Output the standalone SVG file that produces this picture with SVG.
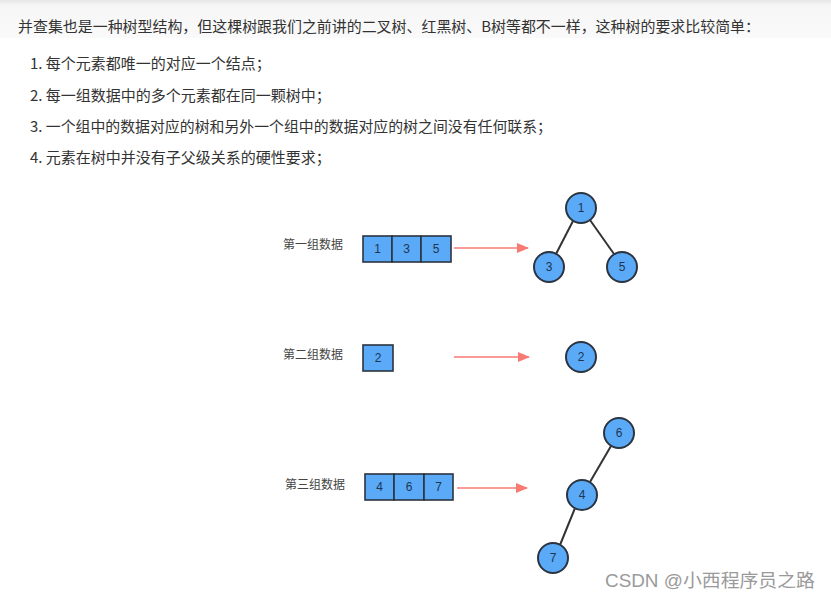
<svg xmlns="http://www.w3.org/2000/svg" width="831" height="598" viewBox="0 0 831 598">
<defs>
<style>
.txt{font-family:"Noto Sans CJK SC","Liberation Sans",sans-serif;fill:#333;font-size:15px}
.lbl{font-family:"Noto Sans CJK SC","Liberation Sans",sans-serif;fill:#444;font-size:12px}
.cell{fill:#5aaaf8;stroke:#2b3440;stroke-width:1.6}
.node{fill:#5aaaf8;stroke:#2b3440;stroke-width:2}
.num{font-family:"Liberation Sans","Noto Sans",sans-serif;fill:#1f3550;font-size:12px;text-anchor:middle}
.edge{stroke:#333;stroke-width:2;fill:none}
.arrow{stroke:#f77b72;stroke-width:1.6;fill:none;marker-end:url(#ah)}
</style>
<marker id="ah" viewBox="0 0 12 10" refX="11" refY="5" markerWidth="12" markerHeight="10" markerUnits="userSpaceOnUse" orient="auto">
<path d="M0,0 L12,5 L0,10 Z" fill="#f77b72"/>
</marker>
<linearGradient id="topg" x1="0" y1="0" x2="0" y2="1">
<stop offset="0" stop-color="#e6e6e6"/>
<stop offset="0.15" stop-color="#f6f6f6"/>
<stop offset="1" stop-color="#fafafa"/>
</linearGradient>
</defs>
<rect width="831" height="598" fill="#ffffff"/>
<rect width="831" height="38" fill="url(#topg)"/>

<g id="text">
<text class="txt" x="18" y="32" textLength="742" lengthAdjust="spacingAndGlyphs">并查集也是一种树型结构，但这棵树跟我们之前讲的二叉树、红黑树、B树等都不一样，这种树的要求比较简单：</text>
<text class="txt" x="30" y="69">1. 每个元素都唯一的对应一个结点；</text>
<text class="txt" x="30" y="101">2. 每一组数据中的多个元素都在同一颗树中；</text>
<text class="txt" x="30" y="132" textLength="522" lengthAdjust="spacingAndGlyphs">3. 一个组中的数据对应的树和另外一个组中的数据对应的树之间没有任何联系；</text>
<text class="txt" x="30" y="163">4. 元素在树中并没有子父级关系的硬性要求；</text>
</g>

<g id="labels">
<text class="lbl" x="283" y="249">第一组数据</text>
<text class="lbl" x="283" y="359">第二组数据</text>
<text class="lbl" x="285" y="489">第三组数据</text>
</g>

<g id="array1">
<rect class="cell" x="363" y="236" width="29" height="26"/>
<rect class="cell" x="392" y="236" width="29" height="26"/>
<rect class="cell" x="421" y="236" width="30" height="26"/>
<text class="num" x="377.5" y="253">1</text>
<text class="num" x="406.5" y="253">3</text>
<text class="num" x="436" y="253">5</text>
</g>
<g id="array2">
<rect class="cell" x="363" y="345" width="30" height="26"/>
<text class="num" x="378" y="362">2</text>
</g>
<g id="array3">
<rect class="cell" x="365" y="474" width="29" height="26"/>
<rect class="cell" x="394" y="474" width="30" height="26"/>
<rect class="cell" x="424" y="474" width="29" height="26"/>
<text class="num" x="379.5" y="491">4</text>
<text class="num" x="409" y="491">6</text>
<text class="num" x="438.5" y="491">7</text>
</g>

<g id="connectors">
<line class="arrow" x1="454" y1="248" x2="528" y2="248"/>
<line class="arrow" x1="454" y1="357" x2="529" y2="357"/>
<line class="arrow" x1="457" y1="488" x2="527" y2="488"/>
<line class="edge" x1="573" y1="221" x2="556" y2="254"/>
<line class="edge" x1="590" y1="220" x2="614" y2="254"/>
<line class="edge" x1="611" y1="446" x2="590" y2="482"/>
<line class="edge" x1="575" y1="508" x2="560" y2="545"/>
</g>

<g id="n1"><circle class="node" cx="581" cy="208" r="15"/><text class="num" x="581" y="212">1</text></g>
<g id="n3"><circle class="node" cx="549" cy="267" r="15"/><text class="num" x="549" y="271">3</text></g>
<g id="n5"><circle class="node" cx="622" cy="267" r="15"/><text class="num" x="622" y="271">5</text></g>
<g id="n2"><circle class="node" cx="581" cy="357" r="15"/><text class="num" x="581" y="361">2</text></g>
<g id="n6"><circle class="node" cx="619" cy="433" r="15"/><text class="num" x="619" y="437">6</text></g>
<g id="n4"><circle class="node" cx="582" cy="495" r="15"/><text class="num" x="582" y="499">4</text></g>
<g id="n7"><circle class="node" cx="553" cy="558" r="15"/><text class="num" x="553" y="562">7</text></g>

<text x="605" y="587" font-family="'Liberation Sans','Noto Sans CJK SC',sans-serif" font-size="18" fill="#9a9a9a" textLength="210" lengthAdjust="spacingAndGlyphs">CSDN @小西程序员之路</text>
</svg>
